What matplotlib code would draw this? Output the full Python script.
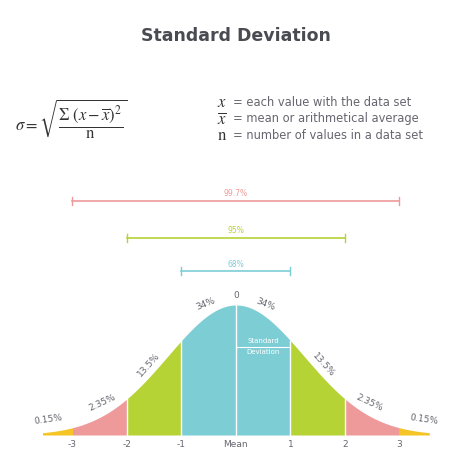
import numpy as np
import matplotlib
matplotlib.use("Agg")
import matplotlib.pyplot as plt

plt.rcParams['mathtext.fontset'] = 'stix'

# chart data
band_edges = [-3.55, -3, -2, -1, 0, 1, 2, 3, 3.55]
band_colors = ['#f5c525', '#ee9a9b', '#b5d334', '#7dcdd5', '#7dcdd5', '#b5d334', '#ee9a9b', '#f5c525']
tick_pos = [-3, -2, -1, 0, 1, 2, 3]
tick_labels = ['-3', '-2', '-1', 'Mean', '1', '2', '3']
pct_labels = ['0.15%', '2.35%', '13.5%', '34%', '34%', '13.5%', '2.35%', '0.15%']
pct_x = [-3.45, -2.45, -1.6, -0.55, 0.55, 1.6, 2.45, 3.45]
pct_rot = [8, 25, 48, 22, -22, -48, -25, -8]
range_labels = ['99.7%', '95%', '68%']
range_halfwidth = [3, 2, 1]
range_colors = ['#ee9a9b', '#b5d334', '#7dcdd5']
range_y = [1.8, 1.515, 1.26]

grey = '#666670'

def curve(x):
    # drawn bell is wider than a unit normal
    return np.exp(-x ** 2 / (2 * 1.25 ** 2))

fig = plt.figure(figsize=(4.74, 4.74), dpi=100)
ax = fig.add_axes([0, 0, 1, 1])
ax.set_xlim(-4.33, 4.37)
ax.set_ylim(-0.3, 3.346)
ax.axis('off')

for i in range(len(band_colors)):
    xs = np.linspace(band_edges[i], band_edges[i + 1], 100)
    ax.fill_between(xs, 0, curve(xs), color=band_colors[i], lw=0)
for t in tick_pos[1:-1]:
    ax.plot([t, t], [0, curve(t)], color='white', lw=1)
ax.plot([0, 1], [0.68, 0.68], color='white', lw=0.8)
ax.text(0.5, 0.70, 'Standard', color='white', fontsize=5, ha='center', va='bottom')
ax.text(0.5, 0.66, 'Deviation', color='white', fontsize=5, ha='center', va='top')

for t, lab in zip(tick_pos, tick_labels):
    ax.text(t, -0.07, lab, ha='center', va='center', fontsize=6.5, color=grey)
ax.text(0, 1.04, '0', ha='center', va='bottom', fontsize=6.5, color=grey)
for x, lab, r in zip(pct_x, pct_labels, pct_rot):
    ax.text(x, max(curve(x), 0.02) + 0.1, lab, ha='center', va='center',
            rotation=r, fontsize=6.5, color=grey)

for lab, hw, c, y in zip(range_labels, range_halfwidth, range_colors, range_y):
    ax.plot([-hw, hw], [y, y], color=c, lw=1.2)
    ax.plot([-hw, -hw], [y - 0.03, y + 0.03], color=c, lw=1)
    ax.plot([hw, hw], [y - 0.03, y + 0.03], color=c, lw=1)
    ax.text(0, y + 0.02, lab, ha='center', va='bottom', fontsize=5.5, color=c)

ax.text(0, 3.07, 'Standard Deviation', ha='center', va='center',
        fontsize=12.5, fontweight='bold', color='#4a4a52')
ax.text(-4.05, 2.43, r'$\sigma = \sqrt{\dfrac{\Sigma\ (x - \overline{x})^2}{\mathrm{n}}}$',
        ha='left', va='center', fontsize=12, color='#333333')
defs = [(r'$x$', 'each value with the data set'),
        (r'$\overline{x}$', 'mean or arithmetical average'),
        (r'$\mathrm{n}$', 'number of values in a data set')]
for i, (sym, txt) in enumerate(defs):
    y = 2.56 - i * 0.128
    ax.text(-0.35, y, sym, ha='left', va='center', fontsize=12, color='#333333')
    ax.text(-0.05, y, '= ' + txt, ha='left', va='center', fontsize=8.3, color=grey)

fig.savefig('out.png', dpi=100, facecolor='white')
